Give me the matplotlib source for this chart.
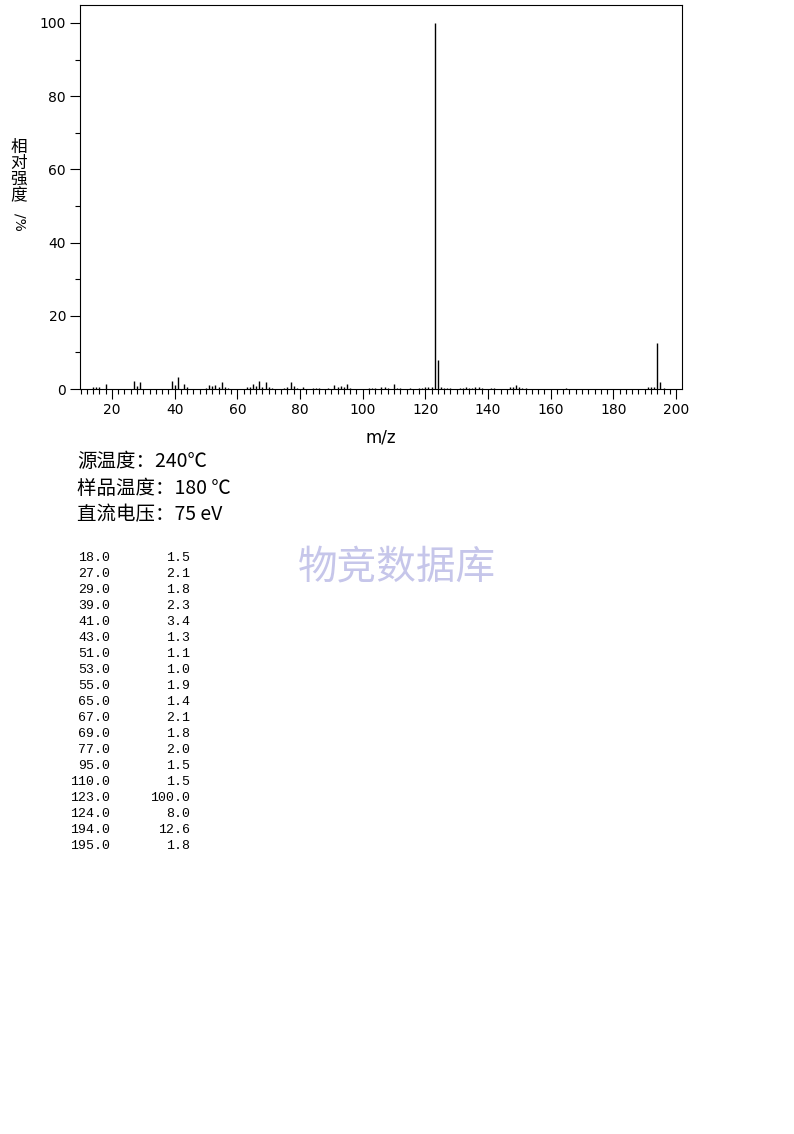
import numpy as np
import matplotlib.pyplot as plt
from matplotlib.ticker import MultipleLocator

plt.rcParams['font.family'] = ['Noto Sans CJK SC', 'DejaVu Sans']

# peaks listed in the table
mz = [18, 27, 29, 39, 41, 43, 51, 53, 55, 65, 67, 69, 77, 95, 110, 123, 124, 194, 195]
intensity = [1.5, 2.1, 1.8, 2.3, 3.4, 1.3, 1.1, 1.0, 1.9, 1.4, 2.1, 1.8, 2.0, 1.5, 1.5,
             100.0, 8.0, 12.6, 1.8]

# small peaks seen on the plot but not in the table (estimated)
minor_mz = [14, 15, 16, 28, 40, 44, 50, 52, 54, 56, 57, 63, 64, 66, 68, 70, 71, 75, 76,
            78, 79, 81, 84, 85, 86, 89, 91, 92, 93, 94, 96, 102, 103, 104, 106, 107, 108,
            111, 112, 115, 118, 119, 120, 121, 122, 125, 126, 127, 128, 131, 132, 133,
            134, 135, 136, 137, 138, 141, 142, 147, 148, 149, 150, 151, 152, 165, 191,
            192, 193, 196]
minor_int = [0.5, 0.5, 0.5, 0.7, 1.0, 0.6, 0.4, 0.8, 0.6, 0.5, 0.4, 0.5, 0.6, 0.8, 0.6,
             0.5, 0.4, 0.4, 0.5, 0.7, 0.4, 0.5, 0.4, 0.4, 0.4, 0.4, 1.0, 0.6, 0.8, 0.5,
             0.4, 0.4, 0.4, 0.4, 0.5, 0.5, 0.4, 0.4, 0.4, 0.4, 0.4, 0.4, 0.5, 0.5, 0.6,
             0.6, 0.4, 0.4, 0.4, 0.4, 0.4, 0.5, 0.4, 0.4, 0.6, 0.6, 0.4, 0.4, 0.4, 0.5,
             0.5, 1.0, 0.5, 0.4, 0.4, 0.4, 0.5, 0.5, 0.5, 0.4]

conditions = ['源温度：240℃', '样品温度：180 ℃', '直流电压：75 eV']

fig = plt.figure(figsize=(7.94, 11.34), dpi=100)
ax = fig.add_axes([80 / 794, 1 - 389 / 1134, 602 / 794, 384 / 1134])

ax.vlines(mz, 0, intensity, colors='black', linewidth=1.0)
ax.vlines(minor_mz, 0, minor_int, colors='black', linewidth=1.0)

ax.set_xlim(9.8, 201.9)
ax.set_ylim(0, 104.9)
ax.xaxis.set_major_locator(MultipleLocator(20))
ax.xaxis.set_minor_locator(MultipleLocator(2))
ax.yaxis.set_major_locator(MultipleLocator(20))
ax.yaxis.set_minor_locator(MultipleLocator(10))
ax.tick_params(which='major', length=7, width=0.8, labelsize=10, pad=3)
ax.tick_params(which='minor', length=3.5, width=0.8)
for s in ax.spines.values():
    s.set_linewidth(0.8)

for lbl in ax.get_xticklabels() + ax.get_yticklabels():
    lbl.set_family('DejaVu Sans')

ax.set_xlabel('m/z', fontsize=12, family='DejaVu Sans', labelpad=8)

# vertical y label: stacked characters, then rotated "/%"
fig.text(19 / 794, 1 - 139 / 1134, '相\n对\n强\n度', fontsize=12, ha='center', va='top',
         linespacing=0.93)
fig.text(19 / 794, 1 - 213 / 1134, '/%', fontsize=10, ha='center', va='top',
         rotation=-90, family='DejaVu Sans')

for i, line in enumerate(conditions):
    fig.text(77 / 794, 1 - (461 + 27 * i) / 1134, line, fontsize=14, ha='left', va='center')

for i, (m, v) in enumerate(zip(mz, intensity)):
    y = 1 - (558 + 16 * i) / 1134
    fig.text(110 / 794, y, f'{m:.1f}', fontsize=9.5, family='Liberation Mono',
             ha='right', va='center')
    fig.text(190 / 794, y, f'{v:.1f}', fontsize=9.5, family='Liberation Mono',
             ha='right', va='center')

fig.text(397 / 794, 1 - 567 / 1134, '物竞数据库', fontsize=28.5, color='#c6c6ea',
         ha='center', va='center')

fig.savefig('out.png', dpi=100)
